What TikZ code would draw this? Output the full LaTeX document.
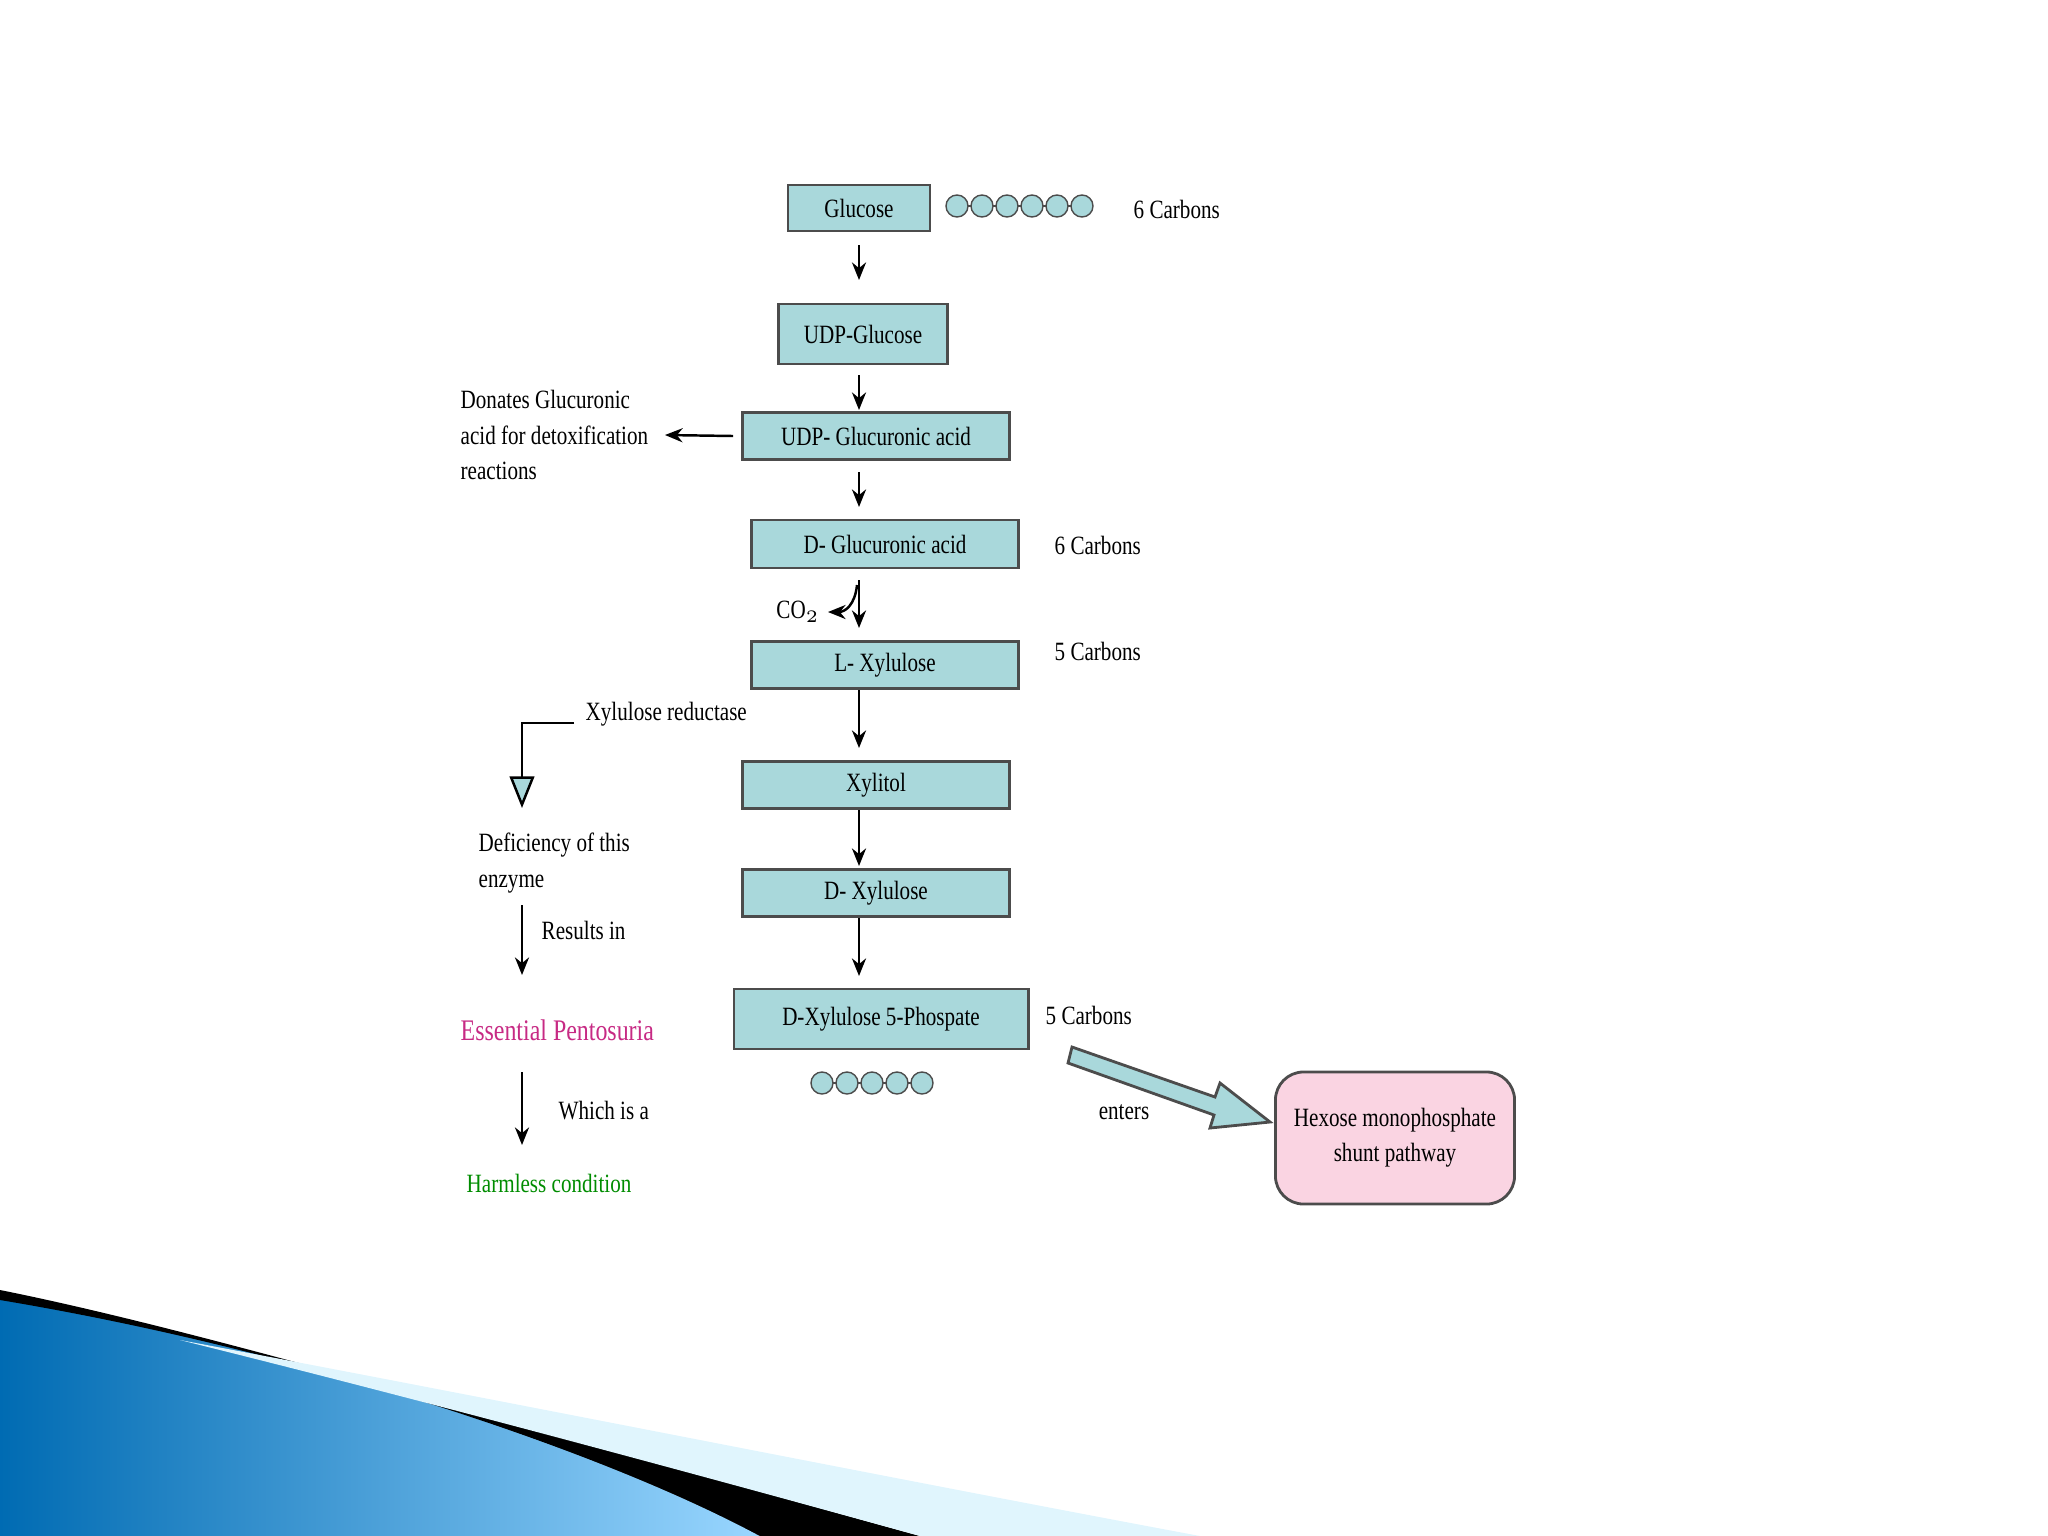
\documentclass[tikz,border=0pt]{standalone}
\usepackage{fontspec}
\setmainfont[FakeStretch=0.8]{Liberation Serif}
\usetikzlibrary{arrows.meta,shapes.arrows}
\definecolor{bx}{HTML}{A9D8DB}
\definecolor{pk}{HTML}{FAD4E2}
\begin{document}
\begin{tikzpicture}[x=0.01cm,y=-0.01cm,
 box/.style={draw=black!70,fill=bx,line width=0.8pt,inner sep=0pt,font=\fontsize{7.5}{9}\selectfont},
 lbl/.style={font=\fontsize{7.5}{9.5}\selectfont,inner sep=0pt},
 arr/.style={-{Stealth[length=5pt,width=4pt]},line width=0.7pt},
 circ/.style={circle,draw=black!70,fill=bx,minimum width=0.17cm,minimum height=0.22cm,inner sep=0pt}]
\useasboundingbox (0,0) rectangle (2048,1536);
% swoosh
\fill[left color=cyan!60!blue!70!black,right color=cyan!60!blue!40] (0,1295) .. controls (300,1350) and (600,1450) .. (760,1536) -- (0,1536) -- cycle;
\fill[black] (0,1290) .. controls (200,1330) and (500,1420) .. (920,1536) -- (760,1536) .. controls (600,1450) and (300,1350) .. (0,1300) -- cycle;
\fill[cyan!12] (180,1340) .. controls (500,1400) and (900,1480) .. (1200,1536) -- (920,1536) .. controls (500,1420) and (300,1370) .. (180,1340) -- cycle;
% boxes
\node[box,minimum width=1.42cm,minimum height=0.46cm] (g) at (859,208) {Glucose};
\node[box,minimum width=1.69cm,minimum height=0.6cm] (ug) at (863,334) {UDP-Glucose};
\node[box,minimum width=2.67cm,minimum height=0.47cm] (uga) at (876,436) {UDP- Glucuronic acid};
\node[box,minimum width=2.67cm,minimum height=0.48cm] (dga) at (885,544) {D- Glucuronic acid};
\node[box,minimum width=2.67cm,minimum height=0.47cm] (lx) at (885,665) {L- Xylulose};
\node[box,minimum width=2.67cm,minimum height=0.47cm] (xt) at (876,785) {Xylitol};
\node[box,minimum width=2.67cm,minimum height=0.47cm] (dx) at (876,893) {D- Xylulose};
\node[box,minimum width=2.94cm,minimum height=0.6cm] (dxp) at (881,1019) {D-Xylulose 5-Phospate};
\node[box,fill=pk,rounded corners=8pt,minimum width=2.39cm,minimum height=1.32cm,align=center] (hmp) at (1395,1138) {Hexose monophosphate\\[1pt]shunt pathway};
% vertical arrows
\draw[arr] (859,245) -- (859,280);
\draw[arr] (859,375) -- (859,410);
\draw[arr] (859,472) -- (859,507);
\draw[arr] (859,580) -- (859,628);
\draw[arr] (859,690) -- (859,748);
\draw[arr] (859,810) -- (859,866);
\draw[arr] (859,918) -- (859,976);
% CO2
\node[lbl] (co2) at (798,612) {CO$_2$};
\draw[arr] (857,585) .. controls (855,605) and (845,612) .. (828,612);
% left
\draw[arr] (uga.west) ++(-8,0) -- (665,435);
\node[lbl,anchor=west,align=left] (don) at (460,435) {Donates Glucuronic\\[0.5pt]acid for detoxification\\[0.5pt]reactions};
% carbons
\node[lbl,anchor=west] at (1133,209) {6 Carbons};
\node[lbl,anchor=west] at (1054,545) {6 Carbons};
\node[lbl,anchor=west] at (1054,651) {5 Carbons};
\node[lbl,anchor=west] at (1045,1015) {5 Carbons};
\draw[black!70,line width=0.6pt] (957,206) -- (1082,206);
\foreach \i in {0,...,5} \node[circ] at (957+\i*25,206) {};
\draw[black!70,line width=0.6pt] (822,1083) -- (922,1083);
\foreach \i in {0,...,4} \node[circ] at (822+\i*25,1083) {};
% enzyme side
\node[lbl,anchor=west] (xr) at (585,714) {Xylulose reductase};
\draw[line width=0.7pt,-{Triangle[open,fill=bx,length=9pt,width=7pt]}] (574,723) -- (522,723) -- (522,808);
\node[lbl,anchor=west,align=left] (def) at (478,863) {Deficiency of this\\[0.5pt]enzyme};
\draw[arr] (522,905) -- (522,975);
\node[lbl,anchor=west] at (541,930) {Results in};
\node[lbl,anchor=west,text=magenta!80!black,font=\fontsize{8.5}{10}\selectfont] (ep) at (460,1030) {Essential Pentosuria};
\draw[arr] (522,1072) -- (522,1145);
\node[lbl,anchor=west] at (558,1111) {Which is a};
\node[lbl,anchor=west,text=green!55!black] (hc) at (466,1183) {Harmless condition};
% big arrow
\draw[fill=bx,draw=black!70,line width=0.8pt] (1072,1047) -- (1215,1097) -- (1220,1083) -- (1270,1122) -- (1210,1128) -- (1214,1115) -- (1068,1063) -- cycle;
\node[lbl] at (1124,1112) {enters};
\end{tikzpicture}
\end{document}
